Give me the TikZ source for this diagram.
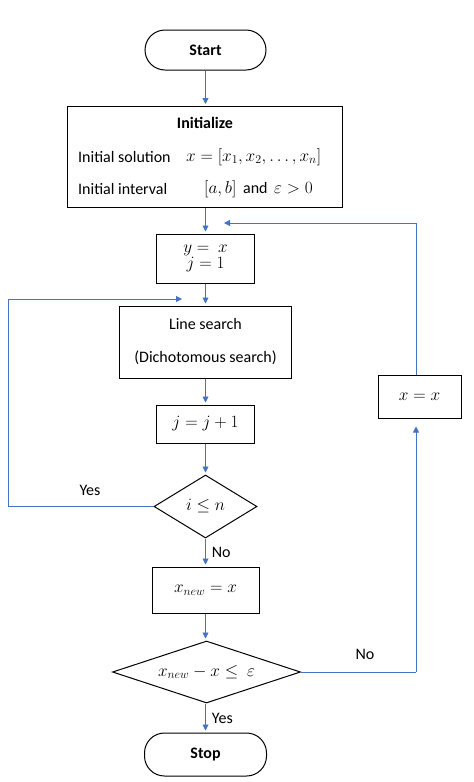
\documentclass[tikz,border=0pt]{standalone}
\usepackage{fontspec}
\setmainfont{Carlito}
\usepackage{amsmath}
\usepackage{tikz}
\usetikzlibrary{shapes.geometric, arrows.meta, positioning}
\definecolor{myblue}{RGB}{68,114,196}
\definecolor{mydark}{RGB}{0,0,0}
\newcommand{\mthsize}{\fontsize{17.5}{21}\selectfont}
\tikzset{
  block/.style={rectangle, draw=mydark, fill=white, align=center, line width=1pt, inner sep=2pt, font=\fontsize{16}{19}\selectfont},
  term/.style={rectangle, draw=mydark, fill=white, rounded corners=20pt, line width=1pt, font=\fontsize{16}{19}\selectfont\bfseries},
  decision/.style={diamond, draw=mydark, fill=white, line width=1pt, inner sep=0pt, font=\mthsize},
  txt/.style={inner sep=0pt, text=black, font=\fontsize{16}{19}\selectfont},
  arrow/.style={-{Triangle[width=6pt,length=6pt]}, line width=0.8pt, color=myblue, shorten >=2pt},
  line/.style={line width=0.8pt, color=myblue}
}

\begin{document}
\begin{tikzpicture}[x=1pt, y=-1pt]
  \useasboundingbox (0,0) rectangle (474,782);

  % Start / Initialize
  \node[term, minimum width=121pt, minimum height=40pt] (start) at (205.5,50) {Start};
  \node[block, minimum width=275pt, minimum height=101pt] (init) at (204.5,157) {};
  \node[txt, font=\fontsize{16}{19}\selectfont\bfseries] (inittitle) at (205,123) {Initialize};
  \node[txt, anchor=west] (solname) at (78,157) {Initial solution};
  \node[txt, anchor=west] (solval) at (186,157) {\mthsize $x=[x_1,x_2,\dots,x_n]$};
  \node[txt, anchor=west] (intname) at (78,189) {Initial interval};
  \node[txt, anchor=west] (intval) at (204,189) {\mthsize $[a,b]$ {\fontsize{16}{19}\selectfont\,and\,} $\varepsilon>0$};

  % Inner loop
  \node[block, minimum width=98pt, minimum height=49pt, font=\mthsize] (yx) at (205.5,258.5) {$y=\ x$\\[-5pt]$j=1$};
  \node[block, minimum width=172pt, minimum height=72pt] (ls) at (205.5,342) {Line search\\[14pt](Dichotomous search)};
  \node[block, minimum width=98pt, minimum height=38pt, font=\mthsize] (jinc) at (205.5,424) {$j=j+1$};
  \node[decision, aspect=1.6, minimum width=103pt, minimum height=63pt] (cond1) at (205.5,506.5) {$i\leq n$};

  % Outer loop
  \node[block, minimum width=107pt, minimum height=46pt, font=\mthsize] (xnew) at (205.5,590) {$x_{new}=x$};
  \node[decision, aspect=3, minimum width=188pt, minimum height=62pt] (cond2) at (206.5,672) {$x_{new}-x\leq\ \varepsilon$};
  \node[term, minimum width=122pt, minimum height=43pt] (stop) at (205.5,754.5) {Stop};
  \node[block, minimum width=83pt, minimum height=43pt, font=\mthsize] (xx) at (419.5,396.5) {$x=x$};

  % Connectors
  \coordinate (loopin) at (182,299);
  \coordinate (leftrail) at (8,506.5);
  \coordinate (backin) at (224,223);
  \coordinate (rightrail) at (416,672);

  \draw[arrow] (start) -- (start |- init.north);
  \draw[arrow] (init.south -| start) -- (yx);
  \draw[arrow] (yx) -- (ls);
  \draw[arrow] (ls) -- (jinc);
  \draw[arrow] (jinc) -- (cond1);
  \draw[arrow] (cond1) -- node[txt, right=6pt] (nolab1) {No} (xnew);
  \draw[arrow] (xnew) -- (xnew |- cond2.north);
  \draw[arrow] (cond2.south -| stop) -- node[txt, right=6pt] (yeslab2) {Yes} (stop);
  \draw[line] (cond1.west) -- (leftrail);
  \draw[arrow, shorten >=0pt] (leftrail) |- (loopin);
  \draw[line] (cond2.east) -- (rightrail);
  \draw[arrow, shorten >=8pt] (rightrail) -- (rightrail |- xx.south);
  \draw[arrow, shorten >=0pt] (xx.north -| rightrail) |- (backin);
  \node[txt] (yeslab1) at (90,490) {Yes};
  \node[txt] (nolab2) at (365,654) {No};
\end{tikzpicture}
\end{document}
